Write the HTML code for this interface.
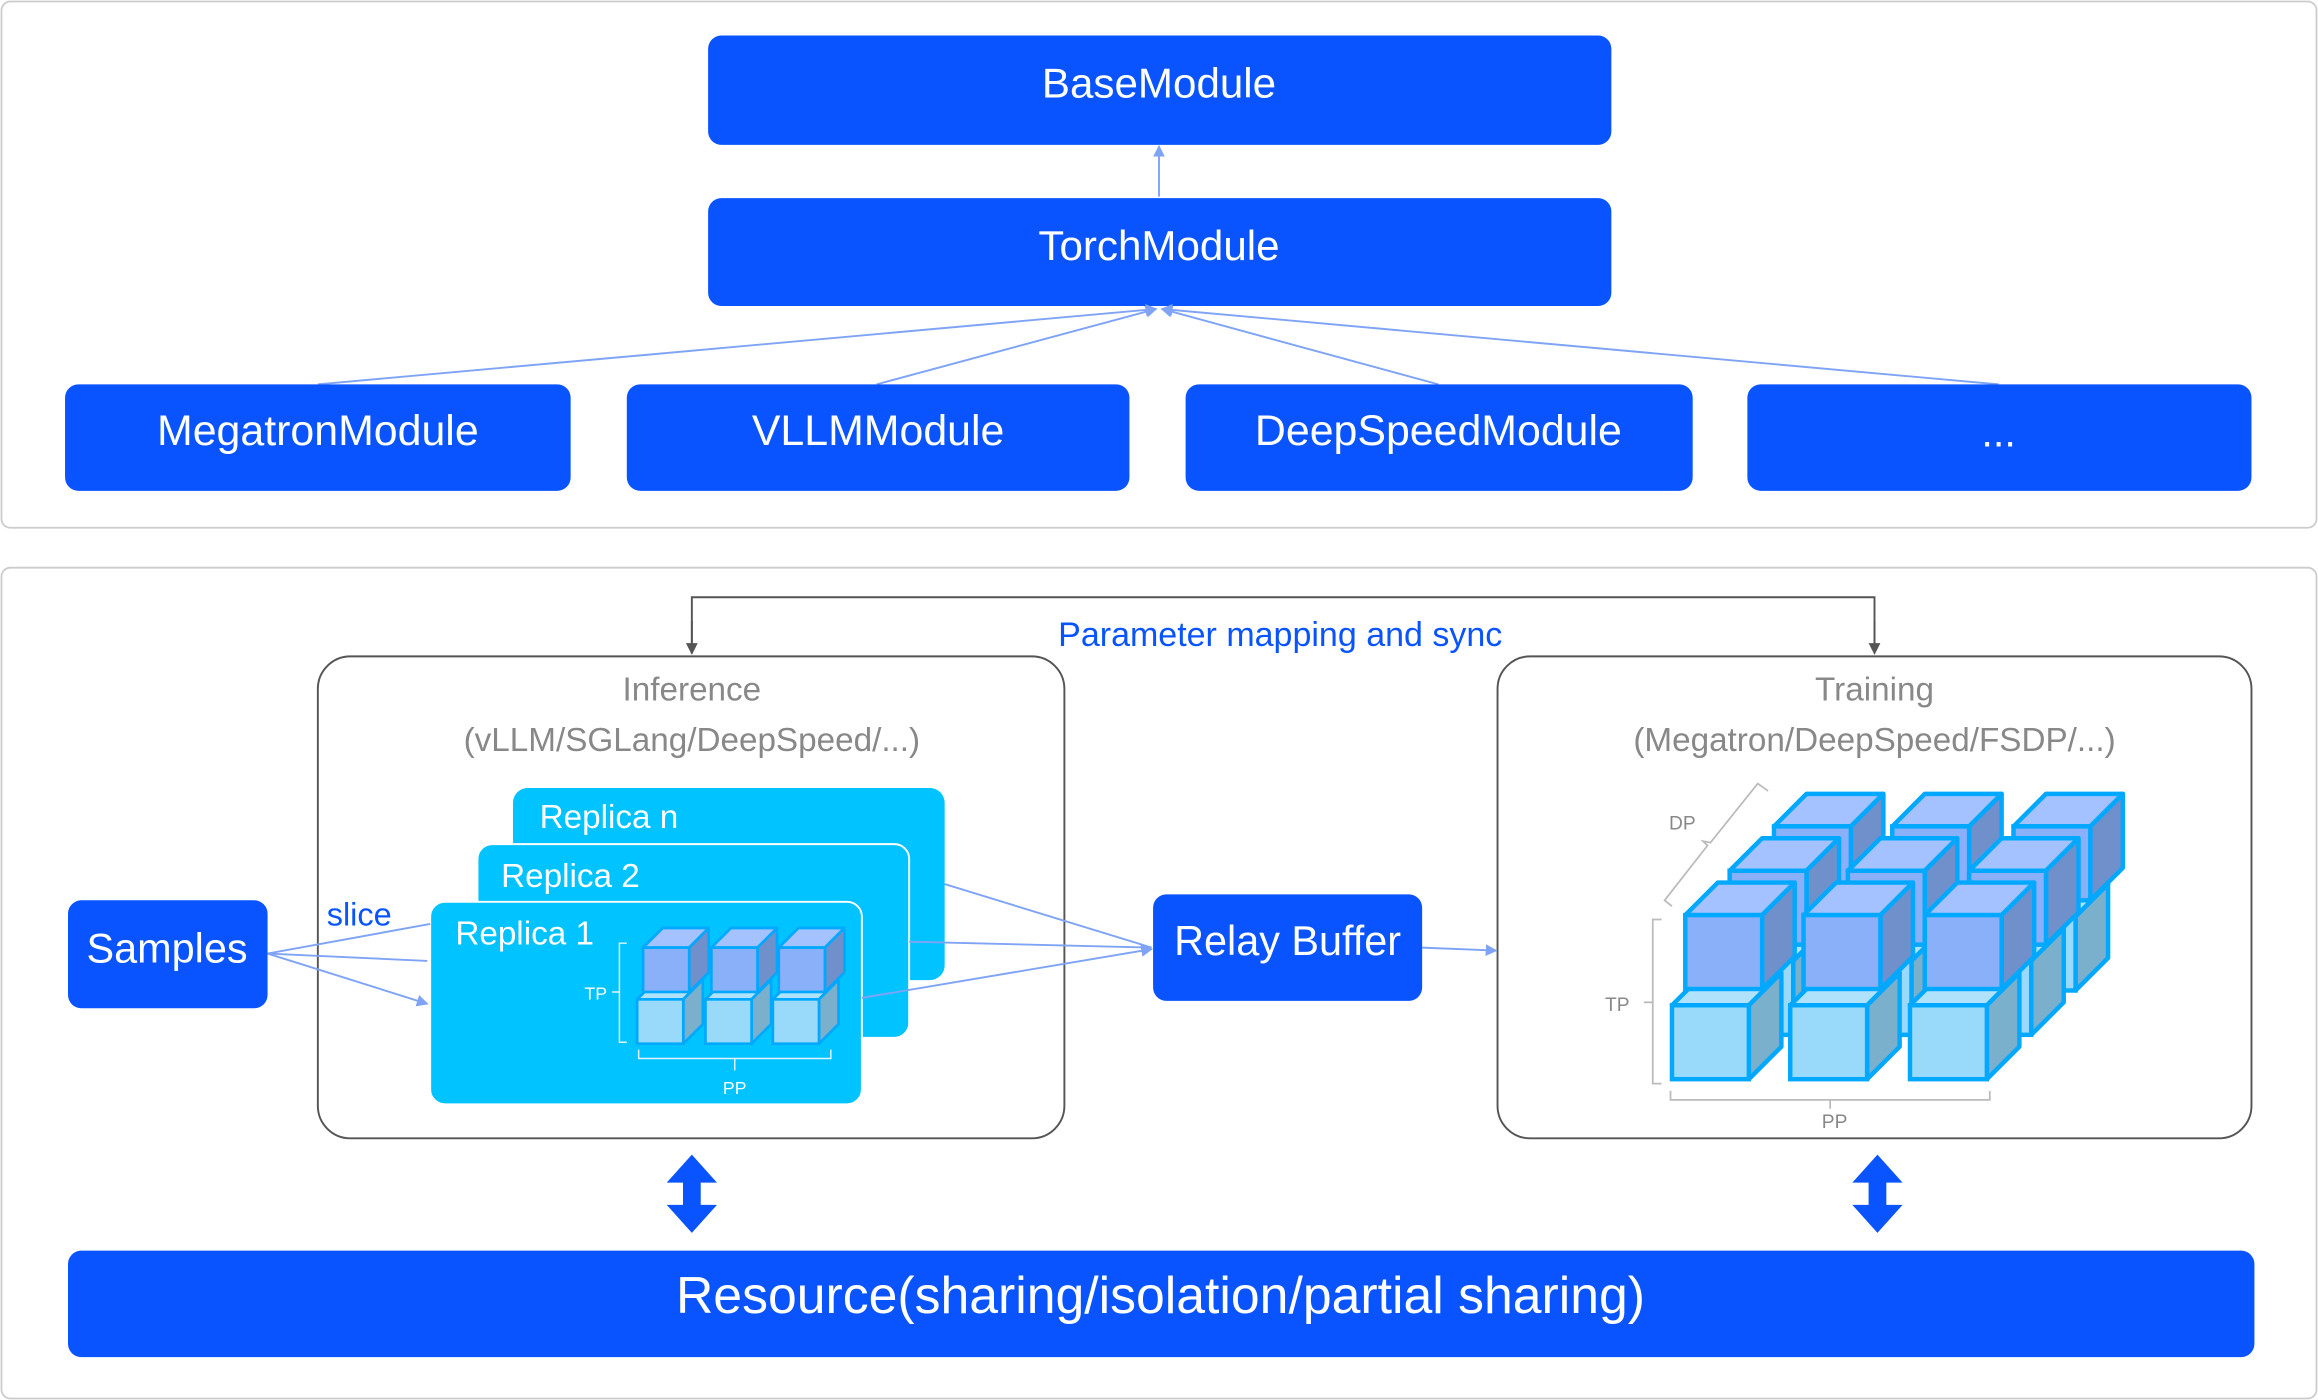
<!DOCTYPE html>
<html><head><meta charset="utf-8"><style>
html,body{margin:0;padding:0;background:#fff;}
svg{display:block;}
text{font-family:"Liberation Sans",sans-serif;}
</style></head><body>
<svg width="2318" height="1400" viewBox="0 0 1568 947" xmlns="http://www.w3.org/2000/svg">
<defs>
<marker id="ab" markerWidth="8" markerHeight="8" refX="7" refY="4" orient="auto" markerUnits="userSpaceOnUse"><path d="M0,0 L8,4 L0,8 z" fill="#7FA4F5"/></marker>
<marker id="ag" markerWidth="8" markerHeight="8" refX="7" refY="4" orient="auto" markerUnits="userSpaceOnUse"><path d="M0,0 L8,4 L0,8 z" fill="#555"/></marker>
<g id="cT">
<polygon points="0,0 22,-22 74,-22 52,0" fill="#A3C2FF" stroke="#00A8FF" stroke-width="3" stroke-linejoin="round"/>
<polygon points="52,0 74,-22 74,28 52,50" fill="#7090CC" stroke="#00A8FF" stroke-width="3" stroke-linejoin="round"/>
<rect x="0" y="0" width="52" height="50" fill="#8AB0FA" stroke="#00A8FF" stroke-width="3"/>
</g>
<g id="cB">
<polygon points="0,0 22,-22 74,-22 52,0" fill="#B0E2FC" stroke="#00A8FF" stroke-width="3" stroke-linejoin="round"/>
<polygon points="52,0 74,-22 74,28 52,50" fill="#7AB0CC" stroke="#00A8FF" stroke-width="3" stroke-linejoin="round"/>
<rect x="0" y="0" width="52" height="50" fill="#99DAFB" stroke="#00A8FF" stroke-width="3"/>
</g>
</defs>

<rect x="1" y="1" width="1566" height="356" rx="6" fill="#fff" stroke="#ccc" stroke-width="1.2"/>
<rect x="479" y="24" width="611" height="74" rx="9" fill="#0A54FF"/>
<text x="784" y="66" font-size="28.5" fill="#fff" text-anchor="middle">BaseModule</text>
<rect x="479" y="134" width="611" height="73" rx="9" fill="#0A54FF"/>
<text x="784" y="176" font-size="28.5" fill="#fff" text-anchor="middle">TorchModule</text>
<line x1="784" y1="133" x2="784" y2="99" stroke="#7FA4F5" stroke-width="1.3" marker-end="url(#ab)"/>
<g stroke="#7FA4F5" stroke-width="1.3">
<line x1="215" y1="260" x2="782" y2="209" marker-end="url(#ab)"/>
<line x1="593" y1="260" x2="782" y2="209" marker-end="url(#ab)"/>
<line x1="973" y1="260" x2="786" y2="209" marker-end="url(#ab)"/>
<line x1="1352" y1="260" x2="786" y2="209" marker-end="url(#ab)"/>
</g>
<rect x="44" y="260" width="342" height="72" rx="9" fill="#0A54FF"/>
<text x="215" y="301" font-size="29" fill="#fff" text-anchor="middle">MegatronModule</text>
<rect x="424" y="260" width="340" height="72" rx="9" fill="#0A54FF"/>
<text x="594" y="301" font-size="29" fill="#fff" text-anchor="middle">VLLMModule</text>
<rect x="802" y="260" width="343" height="72" rx="9" fill="#0A54FF"/>
<text x="973" y="301" font-size="29" fill="#fff" text-anchor="middle">DeepSpeedModule</text>
<rect x="1182" y="260" width="341" height="72" rx="9" fill="#0A54FF"/>
<text x="1352" y="302" font-size="28" fill="#fff" text-anchor="middle">...</text>

<rect x="1" y="384" width="1566" height="562" rx="6" fill="#fff" stroke="#ccc" stroke-width="1.2"/>
<polyline points="468,442 468,404 1268,404 1268,442" fill="none" stroke="#555" stroke-width="1.3"/>
<line x1="468" y1="420" x2="468" y2="442" stroke="#555" stroke-width="1.3" marker-end="url(#ag)"/>
<line x1="1268" y1="420" x2="1268" y2="442" stroke="#555" stroke-width="1.3" marker-end="url(#ag)"/>
<text x="866" y="437" font-size="23" fill="#0A54FF" text-anchor="middle">Parameter mapping and sync</text>

<rect x="215" y="444" width="505" height="326" rx="22" fill="none" stroke="#555" stroke-width="1.3"/>
<text x="468" y="474" font-size="22.5" fill="#888" text-anchor="middle">Inference</text>
<text x="468" y="508" font-size="22.5" fill="#888" text-anchor="middle">(vLLM/SGLang/DeepSpeed/...)</text>
<rect x="1013" y="444" width="510" height="326" rx="22" fill="none" stroke="#555" stroke-width="1.3"/>
<text x="1268" y="474" font-size="22.5" fill="#888" text-anchor="middle">Training</text>
<text x="1268" y="508" font-size="22.5" fill="#888" text-anchor="middle">(Megatron/DeepSpeed/FSDP/...)</text>

<rect x="347" y="533" width="292" height="130" rx="10" fill="#00C3FF"/>
<text x="365" y="560" font-size="22.5" fill="#fff">Replica n</text>
<rect x="323" y="571" width="292" height="131" rx="10" fill="#00C3FF" stroke="#fff" stroke-width="1.3"/>
<text x="339" y="600" font-size="22.5" fill="#fff">Replica 2</text>
<rect x="291" y="610" width="292" height="137" rx="10" fill="#00C3FF" stroke="#fff" stroke-width="1.3"/>
<text x="308" y="639" font-size="22.5" fill="#fff">Replica 1</text>
<g transform="translate(431,676) scale(0.6)"><use href="#cB"/><use href="#cB" x="77"/><use href="#cB" x="153"/></g>
<g transform="translate(435,641) scale(0.6)"><use href="#cT"/><use href="#cT" x="77"/><use href="#cT" x="153"/></g>
<path d="M424,638 L419,638 L419,705 L424,705 M419,671 L414,671" fill="none" stroke="#e0f4ff" stroke-width="1"/>
<text x="403" y="676" font-size="12" fill="#fff" text-anchor="middle">TP</text>
<path d="M432,710 L432,716 L562,716 L562,710 M497,716 L497,724" fill="none" stroke="#e0f4ff" stroke-width="1"/>
<text x="497" y="740" font-size="12" fill="#fff" text-anchor="middle">PP</text>

<rect x="46" y="609" width="135" height="73" rx="9" fill="#0A54FF"/>
<text x="113" y="651" font-size="28" fill="#fff" text-anchor="middle">Samples</text>
<text x="243" y="626" font-size="22" fill="#0A54FF" text-anchor="middle">slice</text>
<g stroke="#7FA4F5" stroke-width="1.3" fill="none">
<line x1="181" y1="645" x2="291" y2="625"/>
<line x1="181" y1="645" x2="289" y2="650"/>
<line x1="181" y1="645" x2="289" y2="679" marker-end="url(#ab)"/>
<line x1="639" y1="598" x2="779" y2="641"/>
<line x1="615" y1="637" x2="779" y2="641"/>
<line x1="583" y1="675" x2="779" y2="642" marker-end="url(#ab)"/>
<line x1="962" y1="641" x2="1012" y2="643" marker-end="url(#ab)"/>
</g>
<rect x="780" y="605" width="182" height="72" rx="9" fill="#0A54FF"/>
<text x="871" y="646" font-size="28" fill="#fff" text-anchor="middle">Relay Buffer</text>

<g transform="translate(60,-60)"><use href="#cB" x="1131" y="680"/><use href="#cB" x="1211" y="680"/><use href="#cB" x="1292" y="680"/><use href="#cT" x="1140" y="619"/><use href="#cT" x="1220" y="619"/><use href="#cT" x="1302" y="619"/></g>
<g transform="translate(30,-30)"><use href="#cB" x="1131" y="680"/><use href="#cB" x="1211" y="680"/><use href="#cB" x="1292" y="680"/><use href="#cT" x="1140" y="619"/><use href="#cT" x="1220" y="619"/><use href="#cT" x="1302" y="619"/></g>
<g><use href="#cB" x="1131" y="680"/><use href="#cB" x="1211" y="680"/><use href="#cB" x="1292" y="680"/><use href="#cT" x="1140" y="619"/><use href="#cT" x="1220" y="619"/><use href="#cT" x="1302" y="619"/></g>
<path d="M1124,622 L1118,622 L1118,733 L1124,733 M1118,678 L1112,678" fill="none" stroke="#bbb" stroke-width="1.2"/>
<text x="1094" y="684" font-size="13" fill="#888" text-anchor="middle">TP</text>
<path d="M1130,738 L1130,744 L1346,744 L1346,738 M1238,744 L1238,750" fill="none" stroke="#bbb" stroke-width="1.2"/>
<text x="1241" y="763" font-size="13" fill="#888" text-anchor="middle">PP</text>
<path d="M1131,613 L1126,609 L1155,572 L1152,569 L1157,570 L1189,530 L1196,535" fill="none" stroke="#bbb" stroke-width="1.2"/>
<text x="1138" y="561" font-size="13" fill="#888" text-anchor="middle">DP</text>

<polygon points="468,781 485,800 474,800 474,815 485,815 468,834 451,815 462,815 462,800 451,800" fill="#0A54FF"/>
<polygon points="1270,781 1287,800 1276,800 1276,815 1287,815 1270,834 1253,815 1264,815 1264,800 1253,800" fill="#0A54FF"/>

<rect x="46" y="846" width="1479" height="72" rx="9" fill="#0A54FF"/>
<text x="785" y="888" font-size="35" fill="#fff" text-anchor="middle">Resource(sharing/isolation/partial sharing)</text>
</svg>
</body></html>
